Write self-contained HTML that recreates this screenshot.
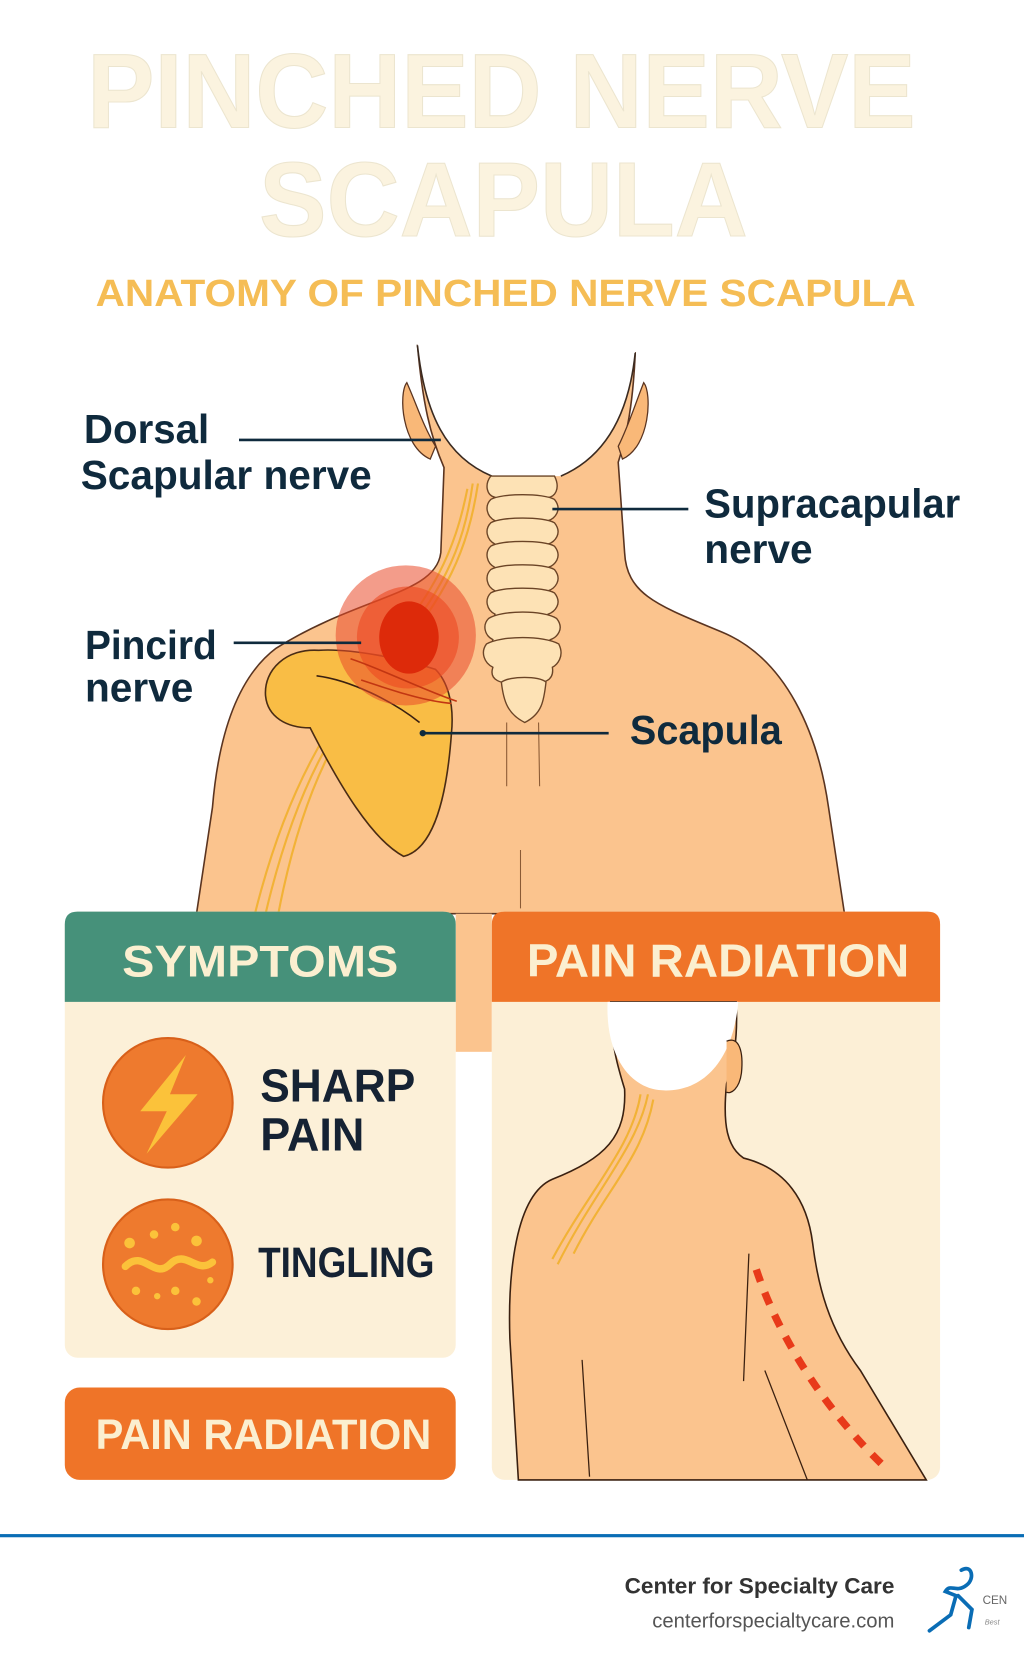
<!DOCTYPE html>
<html><head><meta charset="utf-8"><style>
html,body{margin:0;padding:0;background:#fff;width:1024px;height:1666px;overflow:hidden}
svg{display:block}
text{font-family:"Liberation Sans",sans-serif;font-weight:bold}
</style></head><body>
<svg width="1024" height="1666" viewBox="0 0 964 1568" xmlns="http://www.w3.org/2000/svg">
<rect width="964" height="1568" fill="#fff"/>
<!-- Title -->
<text x="472" y="120" text-anchor="middle" font-size="100" fill="#fbf3df" stroke="#ece5cf" stroke-width="1" textLength="780" lengthAdjust="spacingAndGlyphs">PINCHED NERVE</text>
<text x="474" y="222" text-anchor="middle" font-size="100" fill="#fbf3df" stroke="#ece5cf" stroke-width="1" textLength="460" lengthAdjust="spacingAndGlyphs">SCAPULA</text>
<text x="476" y="288" text-anchor="middle" font-size="36" fill="#f5bd55" textLength="772" lengthAdjust="spacingAndGlyphs">ANATOMY OF PINCHED NERVE SCAPULA</text>

<!-- Body -->
<path d="M393 325 C398 380 405 410 418 440 L415 520 C410 560 340 560 260 610 C220 640 205 700 200 760 L185 860 L795 860 L780 760 C770 690 740 620 680 595 C620 570 590 560 588 520 L582 435 C590 410 596 380 598 332 Z" fill="#fbc48e" stroke="#5a3420" stroke-width="1.5"/>
<rect x="429" y="860" width="34" height="130" fill="#fbc48e"/>
<path d="M393 322 C400 390 420 430 463 448 L528 448 C570 430 592 390 598 330 Z" fill="#fff"/>
<path d="M393 325 C400 390 420 430 463 448 M528 448 C570 430 592 390 598 332" fill="none" stroke="#3a2a20" stroke-width="1.5"/>
<path d="M383 360 C375 370 378 420 405 432 L410 420 C398 400 392 380 383 360Z" fill="#f9b878" stroke="#5a3420" stroke-width="1.2"/>
<path d="M606 360 C614 370 612 420 586 432 L582 420 C592 400 598 380 606 360Z" fill="#f9b878" stroke="#5a3420" stroke-width="1.2"/>
<!-- spine -->
<g fill="#fde2b5" stroke="#6b4426" stroke-width="1.3">
<path d="M462 448 L522 448 C528 460 522 468 516 468 C520 478 512 484 492 482 C472 484 462 478 466 468 C458 466 456 456 462 448Z"/>
<path d="M462 470 C472 464 512 464 522 470 C530 480 522 488 516 490 C520 500 512 504 492 504 C472 504 462 500 466 490 C458 486 456 476 462 470Z"/>
<path d="M462 492 C472 486 512 486 522 492 C530 502 522 510 516 512 C520 522 512 526 492 526 C472 526 462 522 466 512 C458 508 456 498 462 492Z"/>
<path d="M462 514 C472 508 512 508 522 514 C530 524 522 532 516 534 C520 544 512 548 492 548 C472 548 462 544 466 534 C458 530 456 520 462 514Z"/>
<path d="M462 536 C472 530 512 530 522 536 C530 546 522 554 516 556 C520 566 512 570 492 570 C472 570 462 566 466 556 C458 552 456 542 462 536Z"/>
<path d="M462 558 C472 552 512 552 522 558 C530 568 522 576 516 578 C520 588 512 592 492 592 C472 592 462 588 466 578 C458 574 456 564 462 558Z"/>
<path d="M460 582 C472 574 512 574 524 582 C532 592 524 600 518 602 C522 612 514 616 492 616 C470 616 460 612 464 602 C456 598 454 588 460 582Z"/>
<path d="M458 606 C472 598 512 598 526 606 C532 618 524 626 520 628 C522 640 514 644 492 644 C470 644 460 640 464 628 C456 624 452 614 458 606Z"/>
<path d="M472 642 C480 636 508 636 514 642 C512 660 510 672 494 680 C478 672 474 660 472 642Z"/>
</g>
<path d="M477 680 L477 740 M507 680 L508 740 M490 800 L490 855" stroke="#8a5a34" stroke-width="1" fill="none"/>
<!-- nerves -->
<path d="M450 455 C440 520 420 560 370 620 C320 680 285 740 262 860 M445 455 C436 520 414 560 364 620 C316 680 278 740 250 860 M440 460 C428 520 408 560 356 620 C310 680 270 740 240 860" stroke="#f2b236" stroke-width="2" fill="none"/>
<!-- scapula -->
<path d="M300 612 C270 610 248 630 250 655 C252 675 270 685 292 685 C320 740 350 790 380 806 C405 800 420 760 425 690 C428 660 420 640 410 630 C380 620 330 610 300 612Z" fill="#f9bd45" stroke="#4a2c14" stroke-width="1.5"/>
<path d="M298 636 C330 640 370 660 395 680" stroke="#3a2010" stroke-width="1.5" fill="none"/>
<!-- red spot -->
<circle cx="382" cy="598" r="66" fill="#e94a2a" opacity="0.55"/>
<circle cx="384" cy="600" r="48" fill="#ec4a22" opacity="0.6"/>
<ellipse cx="385" cy="600" rx="28" ry="34" fill="#dd2a0a"/>
<path d="M330 620 C360 630 400 650 430 660 M340 640 C370 650 400 660 425 662" stroke="#c23612" stroke-width="1.5" fill="none"/>
<!-- labels -->
<g fill="#0f2a3d" font-size="38">
<text x="79" y="417" textLength="118" lengthAdjust="spacingAndGlyphs">Dorsal</text>
<text x="76" y="460" textLength="274" lengthAdjust="spacingAndGlyphs">Scapular nerve</text>
<text x="663" y="487" textLength="241" lengthAdjust="spacingAndGlyphs">Supracapular</text>
<text x="663" y="530" textLength="102" lengthAdjust="spacingAndGlyphs">nerve</text>
<text x="80" y="620" textLength="124" lengthAdjust="spacingAndGlyphs">Pincird</text>
<text x="80" y="660" textLength="102" lengthAdjust="spacingAndGlyphs">nerve</text>
<text x="593" y="700" textLength="143" lengthAdjust="spacingAndGlyphs">Scapula</text>
</g>
<g stroke="#0f2a3d" stroke-width="2.5">
<line x1="225" y1="414" x2="415" y2="414"/>
<line x1="520" y1="479" x2="648" y2="479"/>
<line x1="220" y1="605" x2="340" y2="605"/>
<line x1="398" y1="690" x2="573" y2="690"/>
</g>
<circle cx="398" cy="690" r="3" fill="#0f2a3d"/>

<!-- Symptoms panel -->
<rect x="61" y="858" width="368" height="420" rx="12" fill="#fcf0d8"/>
<path d="M61 943 L61 870 Q61 858 73 858 L417 858 Q429 858 429 870 L429 943Z" fill="#46917a"/>
<text x="245" y="919" text-anchor="middle" font-size="42" fill="#fbefd0" textLength="260" lengthAdjust="spacingAndGlyphs">SYMPTOMS</text>
<circle cx="158" cy="1038" r="61" fill="#ee7a2e" stroke="#d8601a" stroke-width="2"/>
<path d="M175 993 L132 1046 L157 1046 L138 1086 L186 1030 L160 1030 Z" fill="#fbc23a"/>
<circle cx="158" cy="1190" r="61" fill="#ee7a2e" stroke="#d8601a" stroke-width="2"/>
<path d="M118 1192 C135 1175 145 1205 160 1190 C175 1175 185 1200 200 1188" stroke="#fbc23a" stroke-width="7" fill="none" stroke-linecap="round"/>
<g fill="#fbc23a"><circle cx="122" cy="1170" r="5"/><circle cx="145" cy="1162" r="4"/><circle cx="165" cy="1155" r="4"/><circle cx="185" cy="1168" r="5"/><circle cx="128" cy="1215" r="4"/><circle cx="148" cy="1220" r="3"/><circle cx="165" cy="1215" r="4"/><circle cx="185" cy="1225" r="4"/><circle cx="198" cy="1205" r="3"/></g>
<g fill="#152233" font-size="44">
<text x="245" y="1037" textLength="146" lengthAdjust="spacingAndGlyphs">SHARP</text>
<text x="245" y="1083" textLength="98" lengthAdjust="spacingAndGlyphs">PAIN</text>
<text x="243" y="1202" font-size="40" textLength="166" lengthAdjust="spacingAndGlyphs">TINGLING</text>
</g>
<rect x="61" y="1306" width="368" height="87" rx="14" fill="#ef7428"/>
<text x="248" y="1364" text-anchor="middle" font-size="40" fill="#fbefd0" textLength="316" lengthAdjust="spacingAndGlyphs">PAIN RADIATION</text>

<!-- Right panel -->
<rect x="463" y="858" width="422" height="535" rx="12" fill="#fcefd6"/>
<path d="M463 943 L463 870 Q463 858 475 858 L873 858 Q885 858 885 870 L885 943Z" fill="#ef7428"/>
<text x="676" y="919" text-anchor="middle" font-size="44" fill="#fbefd0" textLength="360" lengthAdjust="spacingAndGlyphs">PAIN RADIATION</text>
<path d="M588 1025 C590 1070 570 1090 520 1110 C485 1125 478 1200 480 1260 L488 1393 L872 1393 L810 1290 C780 1250 770 1210 765 1170 C760 1130 740 1100 700 1090 C685 1080 680 1060 684 1020 C690 1000 695 980 693 943 L575 943 C575 985 582 1005 588 1025Z" fill="#fbc48e" stroke="#3a2010" stroke-width="1.5"/>
<path d="M572 943 C570 990 590 1022 620 1026 C660 1030 690 1000 695 943Z" fill="#fff"/>
<path d="M684 980 C696 975 700 990 698 1010 C696 1025 688 1030 684 1028" fill="#f9b878" stroke="#3a2010" stroke-width="1.2"/>
<path d="M610 1030 C600 1080 560 1120 525 1190 M603 1030 C595 1080 555 1120 520 1185 M615 1035 C605 1090 570 1120 540 1180" stroke="#f2b236" stroke-width="2" fill="none"/>
<path d="M705 1180 L700 1300 M555 1390 L548 1280 M720 1290 L760 1393" stroke="#3a2010" stroke-width="1.2" fill="none"/>
<path d="M712 1195 C730 1250 770 1320 830 1378" stroke="#e83a1a" stroke-width="7" stroke-dasharray="12 11" fill="none"/>

<!-- Footer -->
<rect x="0" y="1444" width="964" height="3" fill="#0a6db5"/>
<text x="842" y="1500" text-anchor="end" font-size="21" fill="#333" textLength="254" lengthAdjust="spacingAndGlyphs">Center for Specialty Care</text>
<text x="842" y="1532" text-anchor="end" font-size="19" fill="#555" style="font-weight:normal" textLength="228" lengthAdjust="spacingAndGlyphs">centerforspecialtycare.com</text>
<path d="M905 1478 C915 1472 918 1486 910 1492 C900 1500 895 1490 890 1498 L900 1502 L895 1520 L875 1535 M902 1502 L915 1515 L912 1532" stroke="#0a6db5" stroke-width="3.5" fill="none" stroke-linecap="round"/>
<text x="925" y="1510" font-size="11" style="font-weight:normal" fill="#666">CEN</text>
<text x="927" y="1529" font-size="7" style="font-weight:normal" fill="#888" font-style="italic">Best</text>
</svg>
</body></html>
